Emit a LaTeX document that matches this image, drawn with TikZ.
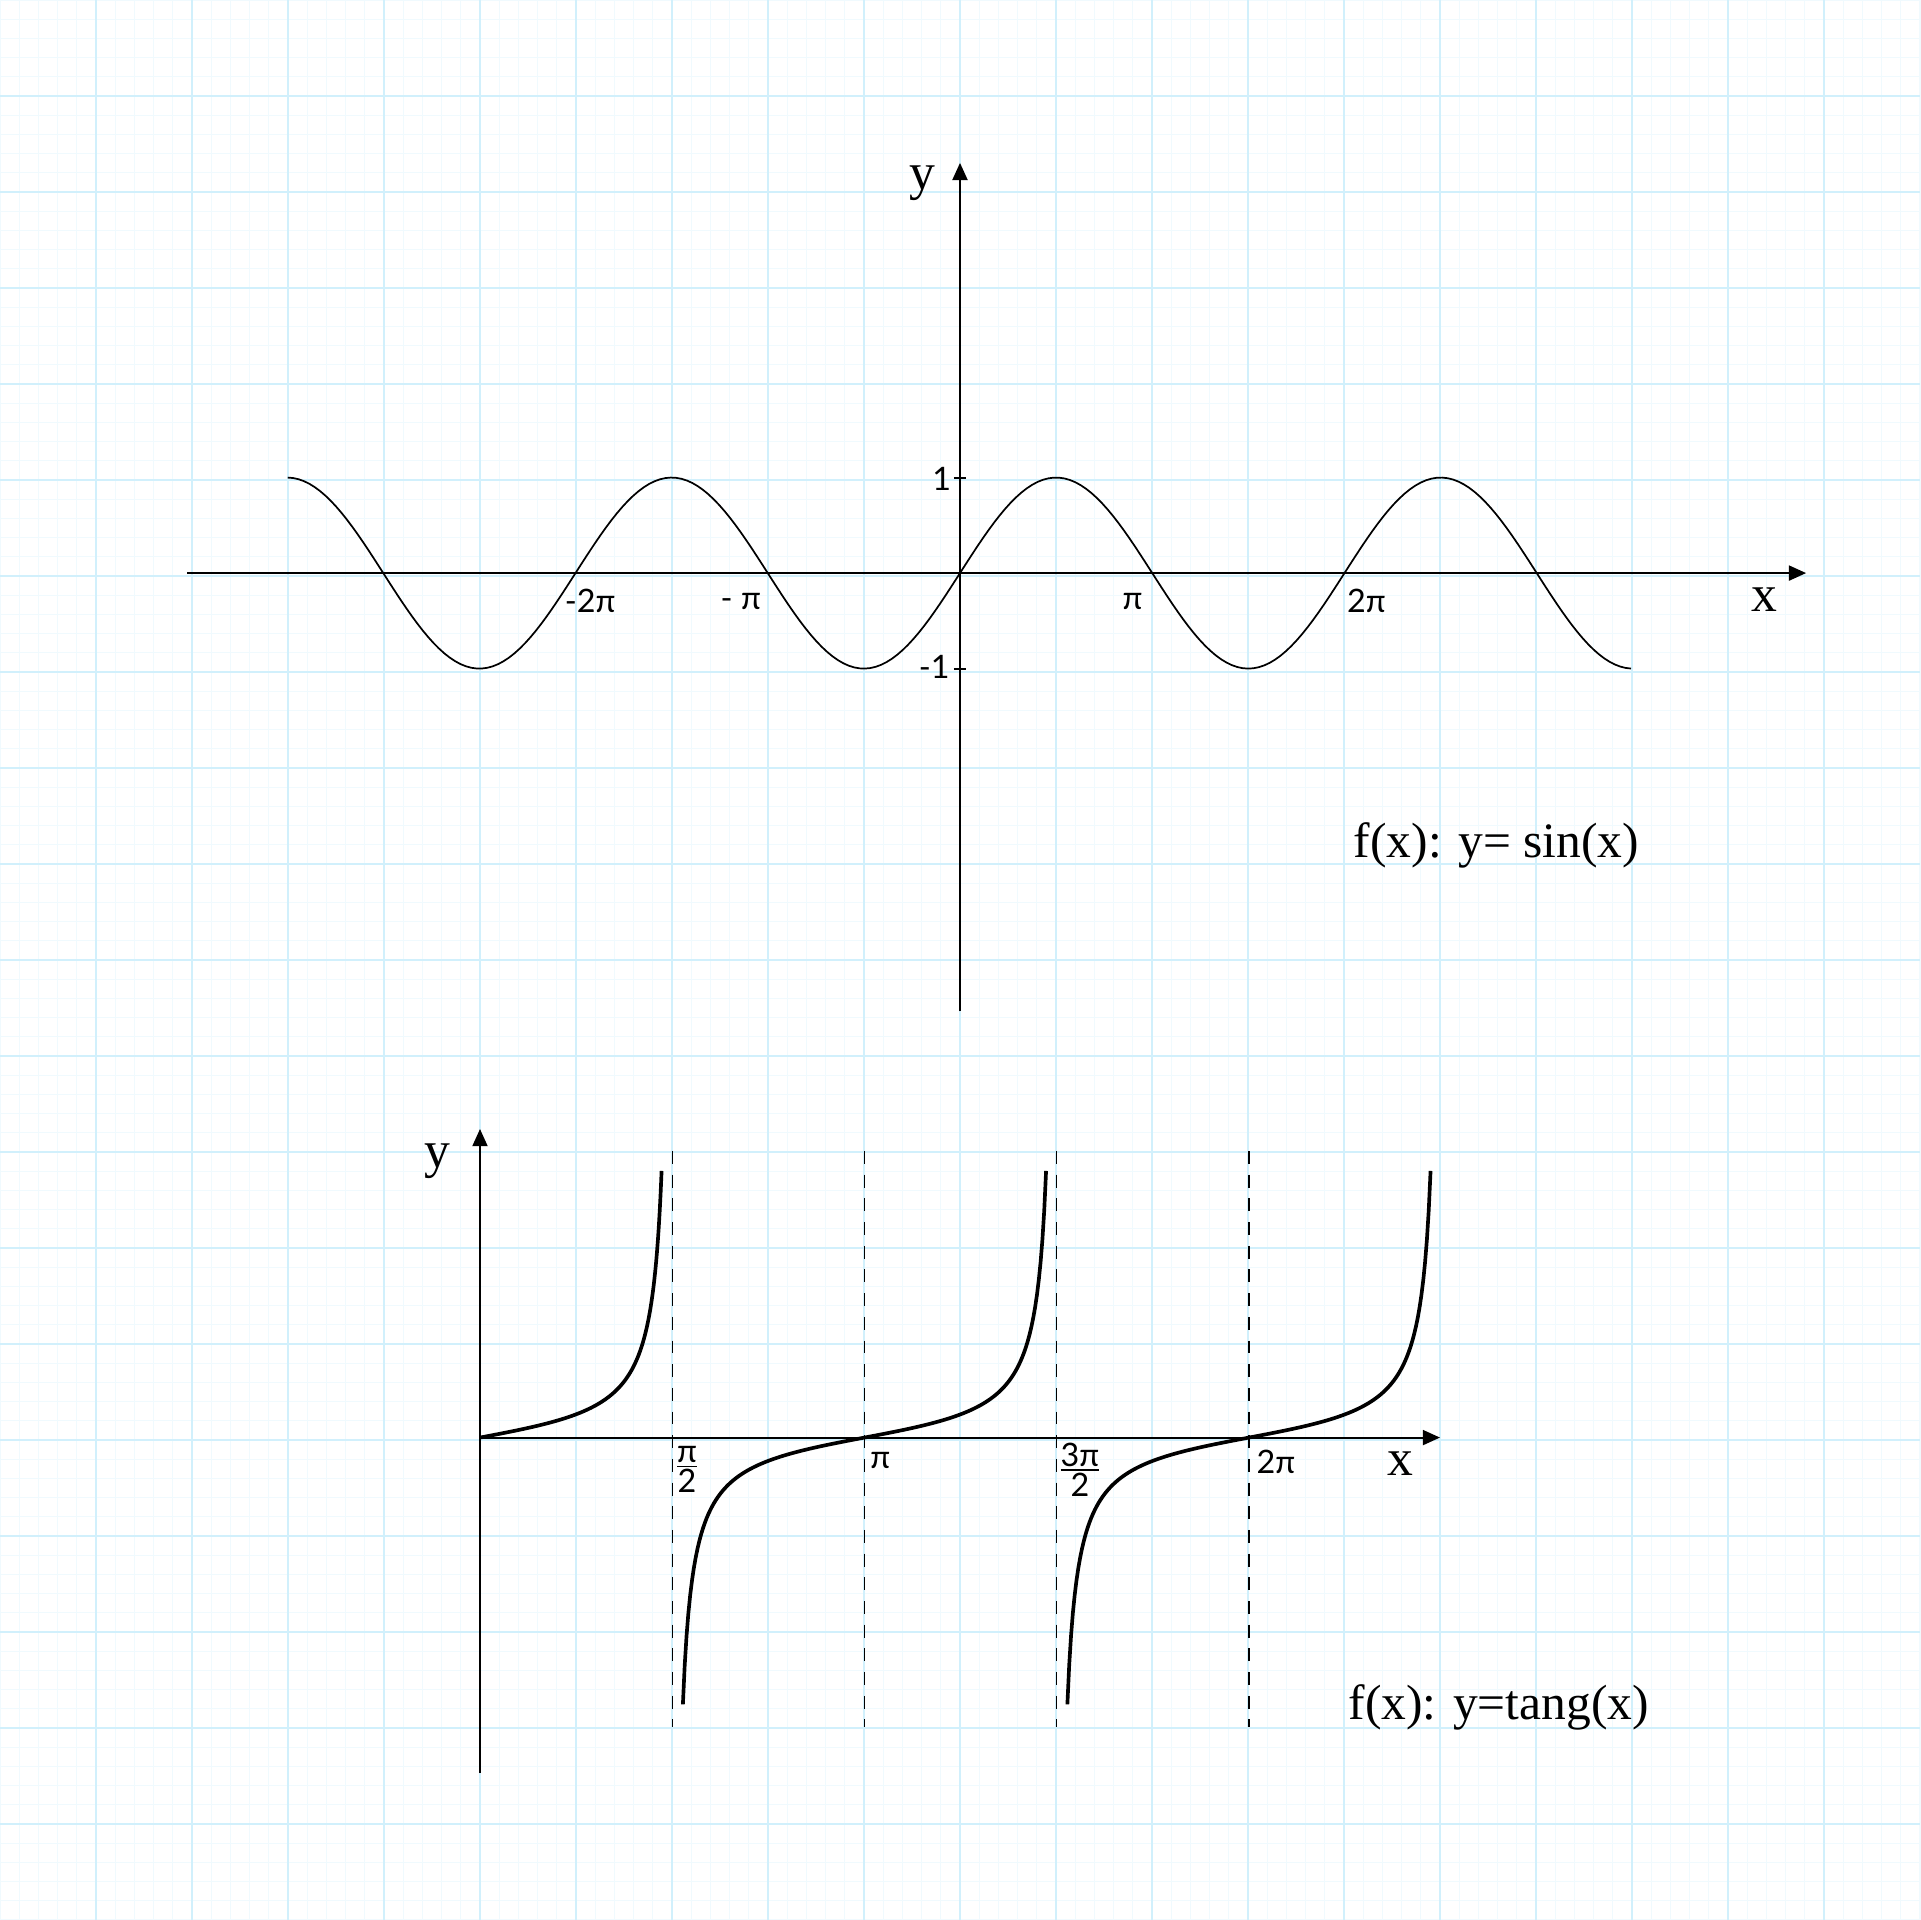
\documentclass[tikz,border=0pt]{standalone}
\usepackage{fontspec}
\setmainfont{Liberation Serif}
\newfontfamily\tickfont{Lato}
\usetikzlibrary{arrows.meta}
\begin{document}
\begin{tikzpicture}[x=0.01cm,y=-0.01cm,
  minorgrid/.style={draw=cyan!6!white,line width=0.3pt},
  majorgrid/.style={draw=cyan!18!white,line width=0.4pt},
  axis/.style={line width=0.45pt,-{Triangle[length=4pt,width=3.5pt]}},
  tick/.style={font=\tickfont\fontsize{7.5}{8}\selectfont,inner sep=0pt},
  axlabel/.style={font=\fontsize{12}{12}\selectfont,inner sep=0pt},
  title/.style={font=\fontsize{11.5}{12}\selectfont,inner sep=0pt},
  asym/.style={line width=0.3pt,dash pattern=on 3pt off 2.5pt}]
\useasboundingbox (0,0) rectangle (1568,1568);
\fill[white] (0,0) rectangle (1568,1568);
\foreach \i in {0,...,100}{
  \draw[minorgrid] ({\i*15.68},0) -- ({\i*15.68},1568);
  \draw[minorgrid] (0,{\i*15.68}) -- (1568,{\i*15.68});}
\foreach \i in {1,...,19}{
  \draw[majorgrid] ({\i*78.4},0) -- ({\i*78.4},1568);
  \draw[majorgrid] (0,{\i*78.4}) -- (1568,{\i*78.4});}
% sine
\coordinate (sxl) at (153,468); \coordinate (sxr) at (1475,468);
\coordinate (syb) at (784,826); \coordinate (syt) at (784,133);
\draw[axis] (sxl) -- (sxr);
\draw[axis] (syb) -- (syt);
\draw[line width=0.45pt] (779,390) -- (789,390) (779,546) -- (789,546);
\draw[line width=0.4pt,domain=235:1332,samples=250] plot (\x,{468-78*sin((\x-784)/157*180)});
\node[tick] (t1) at (769,391) {1};
\node[tick] (tm1) at (763,545) {-1};
\node[tick] (tm2p) at (482,491) {-2π};
\node[tick] (tmp) at (605,491) {- π};
\node[tick] (tp) at (925,491) {π};
\node[tick] (t2p) at (1116,491) {2π};
\node[axlabel] (sx) at (1441,490) {x};
\node[axlabel] (sy) at (753,150) {y};
\node[title] (st) at (1222,690) {f(x): y= sin(x)};
% tangent
\coordinate (txl) at (392,1174); \coordinate (txr) at (1176,1174);
\coordinate (tyb) at (392,1448); \coordinate (tyt) at (392,922);
\draw[axis] (txl) -- (txr);
\draw[axis] (tyb) -- (tyt);
\foreach \a in {549,706,863,1020}{\draw[asym] (\a,940) -- (\a,1410);}
\foreach \s/\e in {392/540.3,557.7/854.3,871.7/1168.3}{
  \draw[line width=0.85pt,domain=\s:\e,samples=200] plot (\x,{1174-19*tan((\x-392)/314*180)});}
\node[tick] (tpi2) at (561,1200) {$\frac{\hbox{\tickfont π}}{\hbox{\tickfont 2}}$};
\node[tick] (tpi) at (719,1193) {π};
\node[tick] (t3pi2) at (882,1200) {$\frac{\hbox{\tickfont 3π}}{\hbox{\tickfont 2}}$};
\node[tick] (t2pi) at (1042,1194) {2π};
\node[axlabel] (tx) at (1144,1195) {x};
\node[axlabel] (ty) at (357,948) {y};
\node[title] (tt) at (1224,1394) {f(x): y=tang(x)};
\end{tikzpicture}
\end{document}
